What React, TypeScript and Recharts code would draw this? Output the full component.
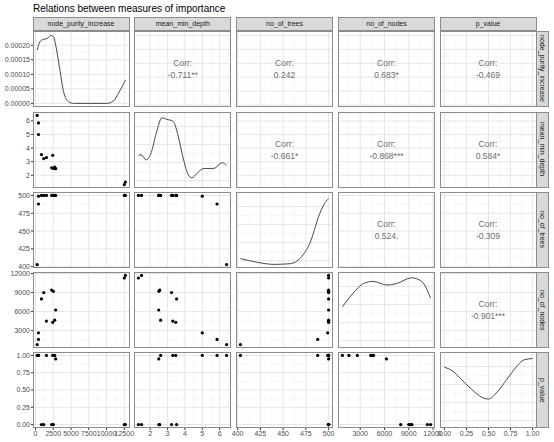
import React from 'react';
import { ComposedChart, Scatter, Line, XAxis, YAxis, CartesianGrid } from 'recharts';

// variables, one value per tree-importance row
const varNames = ['node_purity_increase', 'mean_min_depth', 'no_of_trees', 'no_of_nodes', 'p_value'];
const npi = [240, 420, 420, 2420, 1540, 2700, 2840, 840, 1160, 2520, 2280, 12500, 12650];
const mmd = [6.4, 5.85, 5.0, 3.47, 3.3, 2.6, 2.49, 3.52, 3.23, 2.5, 2.55, 1.32, 1.5];
const trees = [403, 488, 499, 500, 500, 500, 500, 500, 500, 500, 500, 500, 500];
const nodes = [800, 1600, 2650, 4300, 4500, 4650, 6250, 8000, 9000, 9200, 9400, 11300, 11700];
const pValue = [1, 1, 1, 1, 1, 1, 0.95, 0, 0, 0, 0, 0, 0];

// density curves on the diagonal
const npiDensX = [240, 600, 1080, 1640, 2200, 2560, 2940, 3400, 3960, 4660, 5360, 7500, 10040, 10960, 11660, 12650];
const npiDensY = [0.000183, 0.000211, 0.00022, 0.000223, 0.000234, 0.000228, 0.000188, 0.00012, 0.00004, 0.0000055, 0, 0, 0, 0.0000079, 0.000034, 0.00008];
// other diagonals: height as a share of the panel
const mmdDensX = [1.32, 1.47, 1.77, 2.06, 2.35, 2.68, 2.94, 3.32, 3.61, 3.91, 4.2, 4.4, 4.69, 5.08, 5.66, 6.15, 6.4];
const mmdDensY = [0.45, 0.46, 0.39, 0.49, 0.76, 0.97, 0.95, 0.92, 0.72, 0.4, 0.18, 0.14, 0.2, 0.27, 0.27, 0.35, 0.31];
const treesDensX = [403, 421, 440, 458, 469, 480, 489, 495, 500];
const treesDensY = [0.13, 0.08, 0.05, 0.06, 0.14, 0.36, 0.71, 0.88, 0.96];
const nodesDensX = [800, 2150, 3400, 4600, 6300, 7500, 9350, 10600, 11700];
const nodesDensY = [0.57, 0.76, 0.89, 0.92, 0.87, 0.89, 0.97, 0.92, 0.69];
const pDensX = [0, 0.09, 0.21, 0.34, 0.45, 0.5, 0.6, 0.71, 0.82, 0.9, 1];
const pDensY = [0.84, 0.79, 0.65, 0.5, 0.41, 0.4, 0.5, 0.675, 0.85, 0.94, 0.96];

const corrLabels = [
  ['-0.711**', '0.242', '0.683*', '-0.469'],
  ['-0.661*', '-0.868***', '0.584*'],
  ['0.524.', '-0.309'],
  ['-0.901***'],
];

const domains = [[-350, 13300], [1.066, 6.654], [398.15, 504.85], [255, 12245], [-0.05, 1.05]];
const majorTicks = [
  [0, 2500, 5000, 7500, 10000, 12500],
  [2, 3, 4, 5, 6],
  [400, 425, 450, 475, 500],
  [3000, 6000, 9000, 12000],
  [0, 0.25, 0.5, 0.75, 1],
];
const minorTicks = [
  [1250, 3750, 6250, 8750, 11250],
  [1.5, 2.5, 3.5, 4.5, 5.5, 6.5],
  [412.5, 437.5, 462.5, 487.5],
  [1500, 4500, 7500, 10500],
  [0.125, 0.375, 0.625, 0.875],
];
const densDomain = [-0.0000125, 0.000249];
const densTicks = [0, 0.00005, 0.0001, 0.00015, 0.0002];
const densMinor = [0.000025, 0.000075, 0.000125, 0.000175, 0.000225];
const relTicks = [0.1, 0.35, 0.6, 0.85];
const relMinor = [0.225, 0.475, 0.725, 0.975];

const columns = [npi, mmd, trees, nodes, pValue];
const densities = [
  [npiDensX, npiDensY],
  [mmdDensX, mmdDensY],
  [treesDensX, treesDensY],
  [nodesDensX, nodesDensY],
  [pDensX, pDensY],
];
const fmt = [
  (v: number) => String(v),
  (v: number) => String(v),
  (v: number) => String(v),
  (v: number) => String(v),
  (v: number) => v.toFixed(2),
];

const FONT = '"Liberation Sans", Arial, sans-serif';
const PANEL_W = 97;
const PANEL_H = 76;
const colLeft = [32.5, 134.3, 236, 338, 439.5];
const rowTop = [30.5, 111.5, 191.5, 272, 352];
const BORDER = '1px solid #8c8c8c';
const PAD = 10;
const tickStyle = { fontSize: 7, fill: '#4d4d4d', fontFamily: FONT };

const dot = (p: any) => <circle cx={p.cx} cy={p.cy} r={1.6} fill="#000" />;

function Cell({ r, c }: { r: number; c: number }) {
  const diag = r === c;
  const lower = r > c;
  const showY = c === 0;
  const showX = r === 4;
  const yW = showY ? 33 : 0;
  const xH = showX ? 14 : 0;

  let yDomain = domains[r];
  let yMajor = majorTicks[r];
  let yMinor = minorTicks[r];
  let yFmt = fmt[r];
  if (diag && r === 0) {
    yDomain = densDomain;
    yMajor = densTicks;
    yMinor = densMinor;
    yFmt = (v: number) => v.toFixed(5);
  } else if (diag) {
    yDomain = [0, 1.05];
    yMajor = relTicks;
    yMinor = relMinor;
  }

  const points = lower ? columns[c].map((x, i) => ({ x, y: columns[r][i] })) : [];
  const curve = diag ? densities[r][0].map((x, i) => ({ x, y: densities[r][1][i] })) : [];

  return (
    <div style={{ position: 'absolute', left: colLeft[c] - PAD - yW, top: rowTop[r] - PAD }}>
      <ComposedChart
        width={PAD + yW + PANEL_W + PAD}
        height={PAD + PANEL_H + xH + PAD}
        margin={{ top: PAD, right: PAD, bottom: PAD, left: PAD }}
      >
        <XAxis
          type="number"
          dataKey="x"
          domain={domains[c]}
          allowDataOverflow
          ticks={majorTicks[c]}
          interval={0}
          tickFormatter={fmt[c]}
          hide={!showX}
          height={xH}
          tickSize={2}
          tickMargin={1}
          axisLine={false}
          tickLine={{ stroke: '#333' }}
          tick={tickStyle}
        />
        <YAxis
          type="number"
          dataKey="y"
          domain={yDomain}
          allowDataOverflow
          ticks={yMajor}
          interval={0}
          tickFormatter={yFmt}
          hide={!showY}
          width={yW}
          tickSize={2}
          tickMargin={1}
          axisLine={false}
          tickLine={{ stroke: '#333' }}
          tick={tickStyle}
        />
        <CartesianGrid stroke="#f0f0f0" strokeWidth={0.5} verticalValues={minorTicks[c]} horizontalValues={yMinor} />
        <CartesianGrid stroke="#e6e6e6" strokeWidth={1} verticalValues={majorTicks[c]} horizontalValues={yMajor} />
        {lower && <Scatter data={points} shape={dot} isAnimationActive={false} />}
        {diag && (
          <Line
            data={curve}
            dataKey="y"
            type="monotone"
            stroke="#333"
            strokeWidth={0.9}
            dot={false}
            isAnimationActive={false}
          />
        )}
      </ComposedChart>
    </div>
  );
}

export default function App() {
  const cells = [];
  for (let r = 0; r < 5; r++) {
    for (let c = 0; c < 5; c++) cells.push(<Cell key={`${r}-${c}`} r={r} c={c} />);
  }
  const corr = [];
  for (let r = 0; r < 5; r++) {
    for (let c = r + 1; c < 5; c++) {
      corr.push(
        <div
          key={`t${r}-${c}`}
          style={{
            position: 'absolute',
            left: colLeft[c],
            top: rowTop[r],
            width: PANEL_W,
            height: PANEL_H,
            display: 'flex',
            flexDirection: 'column',
            justifyContent: 'center',
            alignItems: 'center',
            fontSize: 8.5,
            lineHeight: '12px',
            color: '#6e6e6e',
          }}
        >
          <div>Corr:</div>
          <div>{corrLabels[r][c - r - 1]}</div>
        </div>
      );
    }
  }
  return (
    <div
      style={{
        position: 'absolute',
        left: 0,
        top: 0,
        width: 554,
        height: 442,
        background: '#fff',
        fontFamily: FONT,
        overflow: 'hidden',
      }}
    >
      <div style={{ position: 'absolute', left: 33, top: 2, fontSize: 10, color: '#000', lineHeight: '14px' }}>
        Relations between measures of importance
      </div>
      {cells}
      {corr}
      {rowTop.map((t, r) =>
        colLeft.map((l, c) => (
          <div
            key={`b${r}-${c}`}
            style={{
              position: 'absolute',
              left: l,
              top: t,
              width: PANEL_W,
              height: PANEL_H,
              border: BORDER,
              boxSizing: 'border-box',
            }}
          />
        ))
      )}
      {varNames.map((name, c) => (
        <div
          key={`s${c}`}
          style={{
            position: 'absolute',
            left: colLeft[c],
            top: 17,
            width: PANEL_W,
            height: 14,
            background: '#d9d9d9',
            border: BORDER,
            boxSizing: 'border-box',
            fontSize: 7,
            color: '#1a1a1a',
            textAlign: 'center',
            lineHeight: '12px',
          }}
        >
          {name}
        </div>
      ))}
      {varNames.map((name, r) => (
        <div
          key={`rs${r}`}
          style={{
            position: 'absolute',
            left: 535.5,
            top: rowTop[r],
            width: 13,
            height: PANEL_H,
            background: '#d9d9d9',
            border: BORDER,
            boxSizing: 'border-box',
            fontSize: 7,
            color: '#1a1a1a',
            writingMode: 'vertical-rl',
            textAlign: 'center',
            lineHeight: '11px',
          }}
        >
          {name}
        </div>
      ))}
    </div>
  );
}
